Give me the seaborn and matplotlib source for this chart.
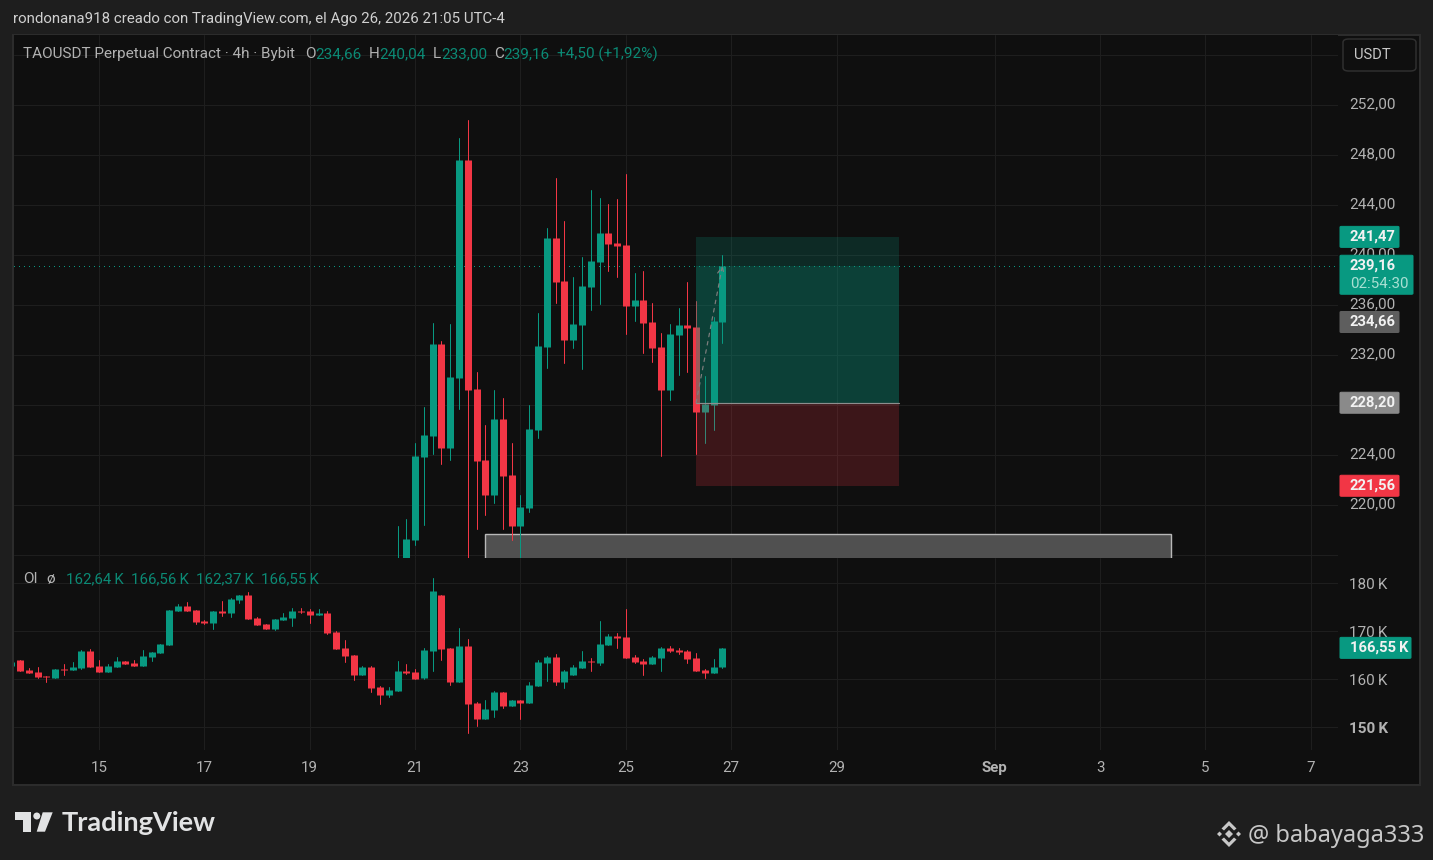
import matplotlib

matplotlib.use("Agg")
import matplotlib.patches as patches
import matplotlib.pyplot as plt
import matplotlib.transforms as mtrans
import numpy as np
import pandas as pd
import seaborn as sns

W, H = 1433, 860
UP = "#089981"
DOWN = "#F23645"
BG = "#0F0F0F"
PANEL = "#1E1E1E"
GRID = "#1E1E1E"
TEXT = "#B2B2B2"
LEGEND_UP = "#0B8A75"

# 4h candles, bar 0 is 15 Aug 00:00
PRICE_START = 34
PRICE_OPEN = [213.00, 214.50, 217.22, 223.86, 225.54, 232.90, 224.58, 230.18, 247.62, 229.30,
              223.62, 220.82, 226.90, 222.42, 218.34, 219.78, 226.02, 232.66, 241.38, 237.94,
              233.22, 234.42, 237.46, 239.46, 241.78, 240.98, 240.82, 235.94, 236.42, 234.66,
              232.66, 229.22, 233.62, 234.42, 234.26, 227.46, 228.02, 234.66]
PRICE_HIGH = [218.34, 218.87, 224.98, 227.86, 234.58, 233.14, 234.50, 249.38, 250.82, 230.66,
              226.42, 229.22, 228.58, 224.98, 220.82, 228.02, 235.38, 242.18, 246.18, 242.74,
              238.26, 239.86, 245.22, 244.58, 244.10, 244.50, 246.50, 238.58, 238.74, 236.18,
              233.78, 234.50, 235.78, 237.86, 236.34, 230.34, 235.06, 240.04]
PRICE_LOW = [212.00, 213.00, 216.82, 218.42, 224.10, 223.30, 223.62, 227.70, 214.00, 218.10,
             219.22, 220.18, 218.10, 217.22, 215.00, 219.46, 225.38, 230.98, 236.18, 231.38,
             232.58, 230.90, 235.62, 236.10, 238.74, 238.26, 233.70, 234.74, 232.18, 231.46,
             223.94, 228.42, 230.42, 230.66, 224.10, 224.98, 226.02, 233.00]
PRICE_CLOSE = [215.00, 217.30, 223.94, 225.62, 232.90, 224.58, 230.26, 247.62, 229.22, 223.54,
               220.82, 226.90, 222.34, 218.34, 219.86, 226.10, 232.74, 241.38, 237.86, 233.22,
               234.50, 237.54, 239.54, 241.78, 240.90, 240.74, 235.94, 236.42, 234.58, 232.58,
               229.22, 233.70, 234.42, 234.18, 227.46, 228.10, 234.74, 239.16]

OI_START = -10
OI_OPEN = [162.77, 164.02, 161.94, 161.52, 160.69, 160.27, 162.15, 161.94, 162.35, 165.90,
           162.77, 161.52, 162.56, 163.81, 163.40, 162.77, 164.65, 165.48, 167.15, 174.23,
           175.27, 174.44, 172.15, 171.73, 174.23, 173.81, 176.52, 177.56, 172.77, 171.52,
           170.48, 172.35, 172.77, 174.23, 174.23, 173.40, 173.81, 169.85, 166.52, 165.06,
           160.90, 162.56, 158.40, 156.73, 157.56, 161.73, 161.52, 160.27, 165.90, 177.56,
           166.52, 159.44, 166.94, 155.06, 151.73, 153.60, 157.35, 154.44, 155.69, 155.06,
           158.60, 163.40, 164.65, 159.44, 160.90, 162.35, 163.81, 163.40, 167.15, 169.02,
           168.81, 164.65, 163.81, 163.19, 164.44, 166.52, 166.10, 165.90, 164.44, 161.94,
           161.31, 162.64]
OI_HIGH = [164.02, 164.02, 162.35, 162.56, 160.69, 162.15, 163.19, 163.60, 166.10, 166.31,
           164.02, 163.19, 164.65, 163.81, 164.02, 166.10, 165.69, 167.35, 174.44, 175.69,
           176.10, 174.44, 172.35, 174.23, 176.31, 176.94, 177.56, 178.19, 172.98, 171.52,
           172.56, 173.81, 174.85, 174.85, 174.65, 174.65, 174.23, 170.06, 168.19, 165.06,
           162.77, 162.77, 158.60, 158.40, 163.81, 163.19, 162.15, 166.52, 181.10, 177.56,
           166.52, 170.69, 168.40, 155.27, 155.69, 157.56, 157.35, 155.69, 155.69, 159.44,
           164.02, 164.85, 165.27, 161.94, 162.98, 165.90, 164.44, 172.15, 169.44, 169.65,
           174.65, 165.06, 164.23, 164.85, 166.73, 166.94, 166.52, 166.10, 165.48, 162.15,
           164.23, 166.56]
OI_LOW = [162.77, 161.73, 161.31, 160.27, 159.44, 160.27, 160.90, 161.94, 162.15, 162.56,
          161.52, 161.52, 162.56, 163.19, 162.77, 162.77, 163.81, 165.48, 167.15, 174.23,
          174.23, 171.52, 171.52, 170.48, 173.19, 172.98, 175.90, 172.56, 171.31, 170.48,
          170.27, 172.35, 171.10, 173.81, 171.73, 173.40, 169.44, 166.31, 163.60, 159.85,
          160.90, 157.35, 154.85, 156.31, 157.56, 161.10, 160.06, 160.06, 161.73, 164.02,
          158.81, 159.44, 148.81, 150.27, 151.73, 152.15, 154.02, 154.44, 151.73, 155.06,
          158.60, 159.65, 158.81, 158.19, 160.90, 162.35, 161.73, 162.98, 167.15, 166.52,
          164.44, 163.40, 160.90, 163.19, 161.73, 165.69, 165.27, 163.40, 161.73, 160.27,
          161.31, 162.37]
OI_CLOSE = [163.60, 161.73, 161.31, 160.48, 160.48, 162.15, 161.94, 162.56, 165.90, 162.56,
            161.52, 162.77, 163.81, 163.19, 162.77, 164.85, 165.69, 167.35, 174.44, 175.27,
            174.23, 171.94, 171.73, 174.23, 173.81, 176.73, 177.56, 172.56, 171.31, 170.48,
            172.56, 172.98, 174.23, 174.02, 173.40, 173.81, 169.65, 166.31, 164.85, 160.90,
            162.56, 158.19, 156.73, 157.77, 161.73, 161.31, 160.06, 166.10, 178.40, 166.31,
            159.44, 166.94, 154.85, 151.73, 153.81, 157.35, 154.44, 155.69, 155.06, 158.81,
            163.60, 164.65, 159.44, 161.73, 162.56, 163.81, 163.60, 167.35, 169.02, 168.60,
            164.44, 163.60, 163.19, 164.65, 166.52, 165.90, 165.69, 164.23, 161.73, 161.31,
            162.56, 166.55]

PRICE_TICKS = [216, 220, 224, 228, 232, 236, 240, 244, 248, 252, 256]
PRICE_LABELS = ["", "220,00", "224,00", "", "232,00", "236,00", "240,00", "244,00", "248,00", "252,00", ""]
OI_TICKS = [150, 160, 170, 180]
OI_LABELS = ["150\u2009K", "160\u2009K", "170\u2009K", "180\u2009K"]
DATE_TICKS = [0, 12, 24, 36, 48, 60, 72, 84, 102, 114, 126, 138]
DATE_LABELS = ["15", "17", "19", "21", "23", "25", "27", "29", "Sep", "3", "5", "7"]

LAST_PRICE = 239.16
BAR_OPEN = 234.66
TARGET = 241.47
ENTRY = 228.20
STOP = 221.56
LAST_OI = 166.55
TRADE_BARS = [68, 91.1]
ZONE_BARS = [44, 122.1]
ZONE_TOP = 217.7
ZONE_BOTTOM = 210.0

PX = 72 / 100  # one pixel in points at dpi 100


def fx(x):
    return x / W


def fy(y):
    return 1 - y / H


def label(x, y, text, color=TEXT, size=10.8, ha="left", **kw):
    return fig.text(fx(x), fy(y), text, color=color, fontsize=size, ha=ha, va="center", **kw)


def draw_candles(ax, start, opens, highs, lows, closes):
    df = pd.DataFrame({"open": opens, "high": highs, "low": lows, "close": closes})
    df["bar"] = start + np.arange(len(df))
    df["side"] = np.where(df["close"] >= df["open"], "up", "down")
    colors = {"up": UP, "down": DOWN}

    wicks = df.melt(id_vars=["bar", "side"], value_vars=["high", "low"], value_name="price")
    sns.lineplot(data=wicks, x="bar", y="price", units="bar", hue="side", palette=colors,
                 estimator=None, sort=False, linewidth=PX, legend=False, ax=ax, zorder=3)

    bodies = df.melt(id_vars=["bar", "side"], value_vars=["open", "close"], value_name="price")
    sns.lineplot(data=bodies, x="bar", y="price", units="bar", hue="side", palette=colors,
                 estimator=None, sort=False, linewidth=7 * PX, legend=False, ax=ax, zorder=4,
                 solid_capstyle="butt")
    ax.set_xlabel("")
    ax.set_ylabel("")


def style_axis(ax, ylim, ticks, labels):
    ax.set_facecolor(BG)
    ax.set_xlim(-9.68, 141.1)
    ax.set_ylim(*ylim)
    ax.set_yticks(ticks, labels)
    ax.set_xticks(DATE_TICKS)
    ax.yaxis.tick_right()
    ax.tick_params(axis="y", length=0, pad=8, labelcolor=TEXT, labelsize=11)
    ax.grid(True, color=GRID, linewidth=PX)
    ax.set_axisbelow(True)
    for side in ["top", "right", "bottom", "left"]:
        ax.spines[side].set_visible(False)


def badge(ax, value, text, color, width, height=21, sub=None, text_color="#F2F2F2"):
    y = H - ax.transData.transform((0, value))[1]
    top = y - height / 2
    if sub:
        top = y - 10.5
    fig.add_artist(patches.FancyBboxPatch(
        (fx(1340), fy(top + height)), (width - 2) / W, height / H,
        boxstyle="round,pad=0,rounding_size=0.001", transform=fig.transFigure,
        facecolor=color, edgecolor=color, linewidth=PX, zorder=5))
    label(1350, top + 10.5, text, color=text_color, size=10.6, fontweight="bold", zorder=6)
    if sub:
        label(1350, top + 29, sub, color="#A9E0D3", size=10.9, zorder=6)


sns.set_theme(style="dark", rc={"figure.facecolor": PANEL, "axes.facecolor": BG})
plt.rcParams["font.family"] = ["Roboto", "DejaVu Sans"]

fig = plt.figure(figsize=(W / 100, H / 100), dpi=100)
fig.add_artist(patches.Rectangle((fx(13), fy(785)), 1407 / W, 750 / H, transform=fig.transFigure,
                                 facecolor=BG, edgecolor="#2C2C2C", linewidth=2 * PX, zorder=-1))

price_ax = fig.add_axes([fx(14), fy(558), 1324 / W, 523 / H])
oi_ax = fig.add_axes([fx(14), fy(750), 1324 / W, 192 / H])

draw_candles(price_ax, PRICE_START, PRICE_OPEN, PRICE_HIGH, PRICE_LOW, PRICE_CLOSE)
draw_candles(oi_ax, OI_START, OI_OPEN, OI_HIGH, OI_LOW, OI_CLOSE)

style_axis(price_ax, (215.78, 257.62), PRICE_TICKS, PRICE_LABELS)
style_axis(oi_ax, (145.27, 185.27), OI_TICKS, OI_LABELS)
price_ax.tick_params(axis="x", length=0, labelbottom=False)
oi_ax.set_xticklabels(DATE_LABELS)
oi_ax.tick_params(axis="x", length=0, pad=8, labelcolor=TEXT, labelsize=10.8)
oi_ax.get_xticklabels()[DATE_LABELS.index("Sep")].set_fontweight("bold")
oi_ax.get_yticklabels()[0].set_fontweight("bold")

# price labels sit 2px above their grid lines
lift = mtrans.ScaledTranslation(0, 2 / 100, fig.dpi_scale_trans)
for tick_label in price_ax.get_yticklabels():
    tick_label.set_transform(tick_label.get_transform() + lift)

# demand zone, runs off the bottom of the pane
price_ax.add_patch(patches.Rectangle((ZONE_BARS[0], ZONE_BOTTOM), ZONE_BARS[1] - ZONE_BARS[0],
                                     ZONE_TOP - ZONE_BOTTOM, facecolor="#505050", edgecolor="#B8B8B8",
                                     linewidth=1.4 * PX, zorder=2))

# long position tool
trade_w = TRADE_BARS[1] - TRADE_BARS[0]
price_ax.add_patch(patches.Rectangle((TRADE_BARS[0], ENTRY), trade_w, TARGET - ENTRY, facecolor=UP,
                                     alpha=0.2, linewidth=0, zorder=5))
price_ax.add_patch(patches.Rectangle((TRADE_BARS[0], ENTRY), trade_w, LAST_PRICE - ENTRY, facecolor=UP,
                                     alpha=0.2, linewidth=0, zorder=5))
price_ax.add_patch(patches.Rectangle((TRADE_BARS[0], STOP), trade_w, ENTRY - STOP, facecolor=DOWN,
                                     alpha=0.2, linewidth=0, zorder=5))
price_ax.plot(TRADE_BARS, [ENTRY, ENTRY], color="#8E8E8E", linewidth=1.2 * PX, zorder=6)
price_ax.annotate("", xy=(71, LAST_PRICE), xytext=(TRADE_BARS[0], ENTRY),
                  arrowprops=dict(arrowstyle="->", color="#7E7E7E", linestyle=(0, (3, 4)),
                                  linewidth=1.2 * PX, shrinkA=0, shrinkB=0), zorder=7)

price_ax.axhline(LAST_PRICE, color=UP, linewidth=PX, linestyle=(0, (1, 5)), zorder=2, antialiased=False)

# legend lines
label(13, 19.5, "rondonana918 creado con TradingView.com, el Ago 26, 2026 21:05 UTC-4", color="#D0D0D0", size=10.8)
label(23, 54, "TAOUSDT Perpetual Contract \u00b7 4h \u00b7 Bybit", size=11)
for x, t in [(305, "O"), (369, "H"), (433, "L"), (494, "C")]:
    label(x, 54, t, size=11)
for x, t in [(315, "234,66"), (379, "240,04"), (441, "233,00"), (503, "239,16"), (557, "+4,50 (+1,92%)")]:
    label(x, 54, t, color=LEGEND_UP, size=11)

label(23, 579, "OI", size=11)
label(46, 579, "\u00f8", size=11)
for x, t in [(66, "162,64\u2009K"), (131, "166,56\u2009K"), (196, "162,37\u2009K"), (261, "166,55\u2009K")]:
    label(x, 579, t, color=LEGEND_UP, size=10.8)

# unit button
fig.add_artist(patches.FancyBboxPatch((fx(1343), fy(71)), 73 / W, 32 / H, transform=fig.transFigure,
                                      boxstyle="round,pad=0,rounding_size=0.004", facecolor=BG,
                                      edgecolor="#303030", linewidth=1.5 * PX))
label(1354, 55, "USDT", color="#C8C8C8", size=10.6)

# axis badges
badge(price_ax, TARGET, "241,47", UP, 61)
badge(price_ax, LAST_PRICE, "239,16", UP, 75, height=39, sub="02:54:30")
badge(price_ax, BAR_OPEN, "234,66", "#5E5E5E", 61)
badge(price_ax, ENTRY, "228,20", "#8A8A8A", 61)
badge(price_ax, STOP, "221,56", DOWN, 61)
badge(oi_ax, LAST_OI, "166,55\u2009K", UP, 73)

# TradingView logo
logo = "#E2E3E4"
for pts in [[(15.3, 812.3), (30.7, 812.3), (30.7, 831.7), (22.7, 831.7), (22.7, 820), (15.3, 820)],
            [(42.7, 812.3), (52.7, 812.3), (45, 831.7), (36.7, 831.7)]]:
    fig.add_artist(patches.Polygon([(fx(a), fy(b)) for a, b in pts], transform=fig.transFigure,
                                   facecolor=logo, edgecolor="none"))
fig.add_artist(patches.Ellipse((fx(36.8), fy(816)), 7 / W, 7 / H, transform=fig.transFigure,
                               facecolor=logo, edgecolor="none"))
label(61.5, 823, "TradingView", color=logo, size=19.6, fontweight="bold", family=["Lato", "DejaVu Sans"])

# Binance mark
mark = "#C8C8C8"
cx, cy = 1229, 834
for pts in [[(0, -4), (4, 0), (0, 4), (-4, 0)],
            [(-9.5, -2.5), (-7, 0), (-9.5, 2.5), (-12, 0)],
            [(9.5, -2.5), (12, 0), (9.5, 2.5), (7, 0)],
            [(0, -13), (7.5, -5.5), (5, -3.5), (0, -8.5), (-5, -3.5), (-7.5, -5.5)],
            [(0, 13), (7.5, 5.5), (5, 3.5), (0, 8.5), (-5, 3.5), (-7.5, 5.5)]]:
    fig.add_artist(patches.Polygon([(fx(cx + a), fy(cy + b)) for a, b in pts], transform=fig.transFigure,
                                   facecolor=mark, edgecolor="none"))
label(1424, 835.5, "@ babayaga333", color=mark, size=17, ha="right", family=["Noto Sans", "DejaVu Sans"])

fig.savefig("out.png", dpi=100, facecolor=fig.get_facecolor())
